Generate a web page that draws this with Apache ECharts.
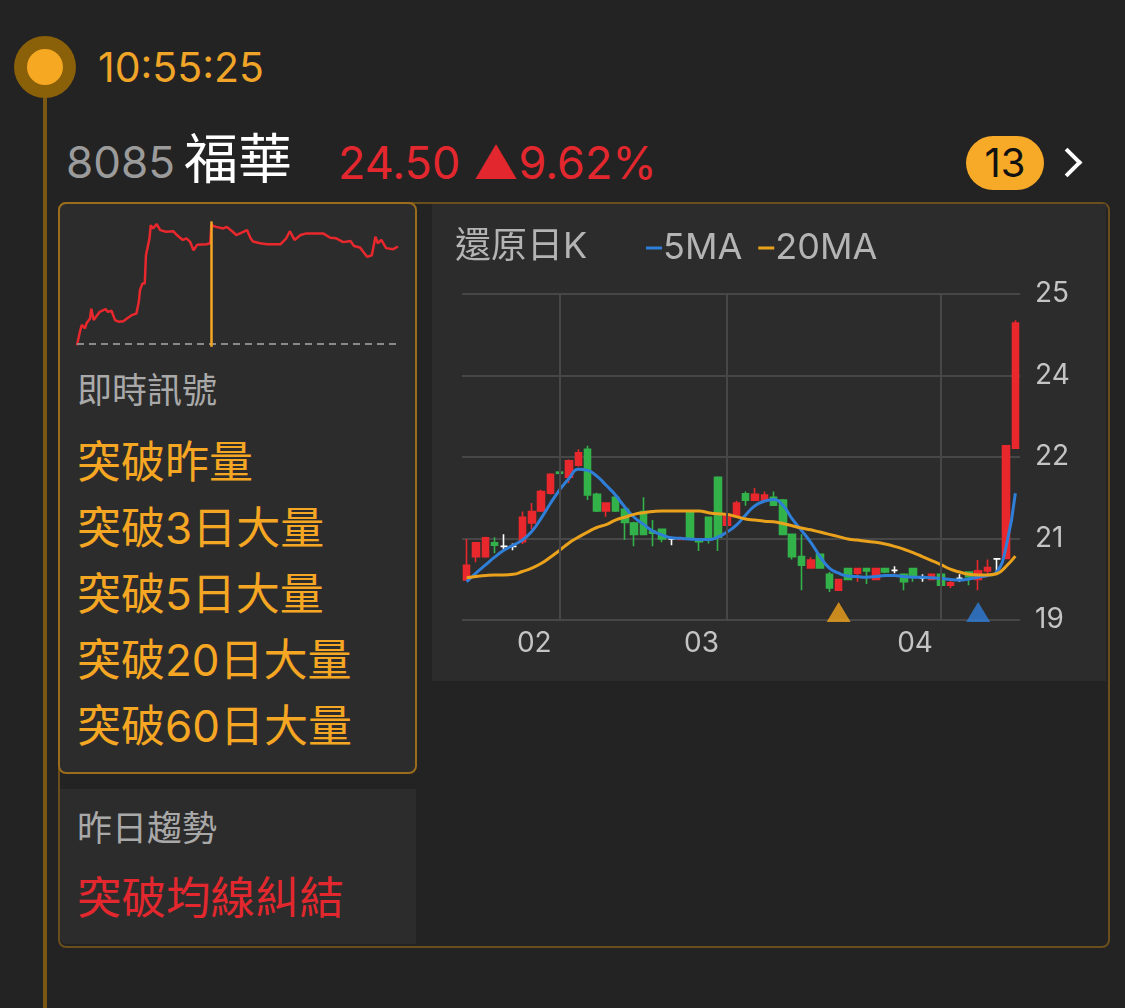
<!DOCTYPE html>
<html><head><meta charset="utf-8">
<script src="https://cdn.jsdelivr.net/npm/echarts@6/dist/echarts.min.js"></script>
<style>
html,body{margin:0;padding:0;}
body{background:#232323;width:1125px;height:1008px;overflow:hidden;position:relative;font-family:Inter,"Noto Sans CJK TC",sans-serif;}
.a{position:absolute;white-space:nowrap;line-height:1;}
</style>
</head><body>
<!-- timeline -->
<div class="a" style="left:43px;top:90px;width:4px;height:918px;background:#7a5712"></div>
<div class="a" style="left:14px;top:36px;width:62px;height:62px;border-radius:50%;background:#8a6008"></div>
<div class="a" style="left:27px;top:49px;width:36px;height:36px;border-radius:50%;background:#f7a823"></div>
<div class="a" style="left:98px;top:47px;font-size:41px;color:#f0a528;">10:55:25</div>
<!-- header -->
<div class="a" style="left:66px;top:140px;font-size:44px;color:#9b9b9b;">8085</div>
<div class="a" style="left:184px;top:133px;font-size:54px;color:#ffffff;">福華</div>
<div class="a" style="left:338px;top:140px;font-size:45px;color:#e2282e;">24.50 ▲9.62%</div>
<div class="a" style="left:966px;top:136px;width:78px;height:54px;border-radius:27px;background:#f7a928;color:#111;font-size:40px;text-align:center;line-height:54px;">13</div>
<div class="a" style="left:1057px;top:152px;width:17px;height:17px;border-top:4px solid #fff;border-right:4px solid #fff;transform:rotate(45deg);"></div>
<!-- card -->
<div class="a" style="left:58px;top:202px;width:1048px;height:742px;border:2px solid #6a4f1d;border-radius:8px;background:#232323;"></div>
<div class="a" style="left:432px;top:204px;width:674px;height:477px;background:#2c2c2c;"></div>
<div class="a" style="left:60px;top:789px;width:356px;height:155px;background:#2c2c2c;border-bottom-left-radius:6px;"></div>
<div class="a" style="left:58px;top:202px;width:355px;height:568px;border:2px solid #9a6c1c;border-radius:8px;background:#2c2c2c;"></div>
<!-- left panel texts -->
<div class="a" style="left:77px;top:373px;font-size:35px;color:#a9a9a9;">即時訊號</div>
<div class="a" style="left:77px;top:440px;font-size:44px;color:#f5a623;">突破昨量</div>
<div class="a" style="left:77px;top:506px;font-size:44px;color:#f5a623;">突破3日大量</div>
<div class="a" style="left:77px;top:572px;font-size:44px;color:#f5a623;">突破5日大量</div>
<div class="a" style="left:77px;top:638px;font-size:44px;color:#f5a623;">突破20日大量</div>
<div class="a" style="left:77px;top:704px;font-size:44px;color:#f5a623;">突破60日大量</div>
<div class="a" style="left:77px;top:811px;font-size:35px;color:#a9a9a9;">昨日趨勢</div>
<div class="a" style="left:77px;top:876px;font-size:44.5px;color:#e2282e;">突破均線糾結</div>
<!-- charts -->
<div id="mini" class="a" style="left:60px;top:204px;width:354px;height:160px;"></div>
<div id="k" class="a" style="left:432px;top:204px;width:674px;height:477px;"></div>
<script>
// ---------- data ----------
const dates = ['2023-01-06','2023-01-09','2023-01-10','2023-01-11','2023-01-12','2023-01-13','2023-01-16','2023-01-17','2023-01-30','2023-01-31',
'2023-02-01','2023-02-02','2023-02-03','2023-02-06','2023-02-07','2023-02-08','2023-02-09','2023-02-10','2023-02-13','2023-02-14','2023-02-15','2023-02-16','2023-02-17','2023-02-20','2023-02-21','2023-02-22','2023-02-23','2023-02-24',
'2023-03-01','2023-03-02','2023-03-03','2023-03-06','2023-03-07','2023-03-08','2023-03-09','2023-03-10','2023-03-13','2023-03-14','2023-03-15','2023-03-16','2023-03-17','2023-03-20','2023-03-21','2023-03-22','2023-03-23','2023-03-24','2023-03-27','2023-03-28','2023-03-29','2023-03-30','2023-03-31',
'2023-04-06','2023-04-07','2023-04-10','2023-04-11','2023-04-12','2023-04-13','2023-04-14','2023-04-17','2023-04-18'];
const opens = [20.00,20.41,20.41,20.65,20.59,20.59,20.67,21.00,21.21,21.52, 21.89,21.80,22.01,22.29,21.50,21.21,21.45,21.24,21.00,21.20, 20.86,20.89,20.72,20.71,21.18,20.71,21.10,21.80,20.96,21.11, 21.51,21.40,21.40,21.45,21.40,20.80,20.41,20.21,20.45,20.10, 19.82,20.20,20.12,20.20,20.01,20.20,20.17,20.10,20.20,20.03, 20.01,20.10,19.91,20.03,20.14,20.01,20.16,20.37,20.38,22.31];
const closes = [20.26,20.65,20.74,20.61,20.59,20.59,21.10,21.20,21.55,21.85, 21.87,22.09,22.23,21.49,21.21,21.35,21.21,21.01,20.80,20.80, 20.82,20.72,20.72,20.74,20.72,20.67,20.70,20.75,21.15,21.35, 21.40,21.50,21.49,21.31,20.80,20.41,20.26,20.35,20.21,19.86, 20.01,20.01,20.20,20.16,20.20,20.14,20.17,19.97,20.07,20.03, 20.10,19.91,19.95,20.03,20.06,20.16,20.22,20.37,22.35,24.50];
const highs = [20.72,20.67,20.76,20.75,20.80,20.64,21.20,21.35,21.58,21.87, 21.89,22.11,22.29,22.35,21.53,21.36,21.47,21.26,21.02,21.45, 21.05,20.90,20.72,20.74,21.19,20.72,21.11,21.82,21.17,21.39, 21.55,21.61,21.55,21.55,21.42,20.81,20.80,20.40,20.46,20.14, 20.02,20.21,20.21,20.21,20.21,20.21,20.24,20.12,20.21,20.10, 20.11,20.11,19.99,20.10,20.15,20.35,20.36,20.37,22.35,24.55];
const lows = [19.99,20.31,20.39,20.47,20.52,20.52,20.63,20.89,21.19,21.50, 21.87,21.70,21.99,21.40,21.19,21.11,21.19,20.70,20.59,20.79, 20.59,20.66,20.61,20.71,20.71,20.51,20.64,20.51,20.94,21.09, 21.30,21.39,21.39,21.30,20.79,20.36,19.82,20.20,20.20,19.79, 19.81,20.00,19.97,19.93,20.00,20.12,20.12,19.82,19.97,19.97, 20.00,19.90,19.86,19.97,19.91,19.82,20.07,20.12,20.37,22.30];
const ma5 = [19.97,20.12,20.26,20.40,20.52,20.61,20.70,20.85,21.08,21.34, 21.58,21.78,21.94,21.92,21.82,21.66,21.49,21.28,21.10,20.98, 20.86,20.79,20.74,20.73,20.72,20.71,20.71,20.75,20.84,20.96, 21.14,21.30,21.38,21.41,21.31,21.07,20.87,20.66,20.41,20.21, 20.12,20.07,20.06,20.05,20.06,20.08,20.08,20.06,20.05,20.05, 20.04,20.03,20.01,20.00,20.02,20.05,20.08,20.14,20.58,21.52];
const ma20 = [20.04,20.06,20.08,20.09,20.09,20.10,20.15,20.21,20.29,20.40, 20.52,20.65,20.75,20.84,20.92,20.97,21.05,21.10,21.15,21.18, 21.20,21.21,21.21,21.21,21.21,21.21,21.18,21.16,21.15,21.11, 21.07,21.05,21.03,21.02,20.99,20.95,20.91,20.88,20.84,20.80, 20.76,20.72,20.70,20.68,20.66,20.63,20.59,20.54,20.48,20.41, 20.34,20.27,20.19,20.14,20.10,20.09,20.09,20.11,20.24,20.42];
const yTickLabels = ['19','21','22','24','25'];
const orangeSignalIdx = [40];
const blueSignalIdx = [55];

const intradayMinutes = [0,2.5,4,6.7,8,11,12,14,17,19,24,26,29,32,35,39,42,46,50,52,53,55,57,58,59,61,62,64,67,70,75,81,84,89,92,95,98,101,109,112,113,117,123,126,131,134,143,146,148,154,160,171,176,179,183,188,193,207,213,218,224,230,233,238,244,248,251,253,256,260,266,270];
const intradayPrices = [22.33,22.58,22.70,22.64,22.73,22.82,23.00,22.79,22.88,22.94,22.99,22.94,22.96,22.79,22.76,22.77,22.82,22.88,22.91,23.13,23.34,23.46,23.46,23.98,23.95,24.29,24.53,24.47,24.55,24.44,24.41,24.42,24.35,24.26,24.29,24.23,24.07,24.17,24.18,24.20,24.53,24.50,24.47,24.50,24.41,24.35,24.44,24.29,24.23,24.20,24.18,24.18,24.29,24.42,24.26,24.35,24.38,24.38,24.30,24.29,24.22,24.24,24.15,24.12,23.95,23.98,24.32,24.20,24.26,24.11,24.09,24.14];
const prevClose = 22.35;
const signalMinute = 113;

// ---------- styles ----------
const FONT = 'Inter, "Noto Sans CJK TC", sans-serif';
const RED = '#e8282d', GREEN = '#33b24a', BLUE = '#2f7ed8', ORANGE = '#eaa21c';
const yMin = 19.30, yMax = 25.01;

const monthStarts = dates.map((d,i)=> (i>0 && d.slice(5,7)!==dates[i-1].slice(5,7)) ? i : -1).filter(i=>i>=0);
const candleData = dates.map((d,i)=>[opens[i],closes[i],lows[i],highs[i]]);
const sigY = yMin + 0.14;

const k = echarts.init(document.getElementById('k'));
k.setOption({
  animation:false,
  title:{text:'還原日K', left:18, top:20, textStyle:{color:'#b4b4b4', fontSize:36, fontWeight:'normal', fontFamily:FONT}},
  legend:{data:['5MA','20MA'], left:209, top:21, icon:'rect', itemWidth:16, itemHeight:3, itemGap:16,
    textStyle:{color:'#b4b4b4', fontSize:36, fontFamily:FONT, padding:[0,0,0,-4]}},
  grid:{left:30, top:90, width:558, height:326},
  xAxis:{type:'category', data:dates, boundaryGap:true,
    axisLine:{show:false}, axisTick:{show:false}, splitLine:{show:false},
    axisLabel:{interval:(i)=>monthStarts.includes(i), formatter:v=>v.slice(5,7), color:'#c4c4c4', fontSize:28, fontFamily:FONT, margin:10, align:'right', padding:[0,8,0,0]}},
  yAxis:[
    {type:'value', min:yMin, max:yMax, show:false},
    {type:'value', min:0, max:4, interval:1, position:'right',
      axisLine:{show:false}, axisTick:{show:false},
      splitLine:{lineStyle:{color:'#474747', width:2}},
      axisLabel:{formatter:v=>yTickLabels[Math.round(v)], color:'#c4c4c4', fontSize:28, fontFamily:FONT, margin:15}}
  ],
  series:[
    {type:'candlestick', name:'K', data:candleData, barWidth:7, yAxisIndex:0,
      itemStyle:{color:RED, color0:GREEN, borderColor:RED, borderColor0:GREEN, borderColorDoji:'#ffffff', borderWidth:1.6},
      markLine:{silent:true, symbol:['none','none'], label:{show:false}, animation:false,
        lineStyle:{color:'#474747', width:2, type:'solid'},
        data: monthStarts.map(i=>({xAxis:dates[i]}))}},
    {type:'line', name:'5MA', data:ma5, smooth:true, showSymbol:false, yAxisIndex:0, lineStyle:{color:BLUE, width:3}, itemStyle:{color:BLUE}},
    {type:'line', name:'20MA', data:ma20, smooth:true, showSymbol:false, yAxisIndex:0, lineStyle:{color:ORANGE, width:3}, itemStyle:{color:ORANGE}},
    {type:'scatter', name:'signalA', data:orangeSignalIdx.map(i=>[dates[i], sigY]), yAxisIndex:0, symbol:'triangle', symbolSize:[24,20], itemStyle:{color:'#f2a41c'}, silent:true},
    {type:'scatter', name:'signalB', data:blueSignalIdx.map(i=>[dates[i], sigY]), yAxisIndex:0, symbol:'triangle', symbolSize:[24,20], itemStyle:{color:'#2f7ed8'}, silent:true}
  ]
});

const mini = echarts.init(document.getElementById('mini'));
mini.setOption({
  animation:false,
  grid:{left:17, top:17.4, width:321, height:125.4},
  xAxis:{type:'value', min:0, max:270, show:false},
  yAxis:{type:'value', min:22.30, max:24.60, show:false},
  series:[{type:'line', data:intradayMinutes.map((m,i)=>[m,intradayPrices[i]]), showSymbol:false,
    lineStyle:{color:RED, width:2.5},
    markLine:{silent:true, symbol:['none','none'], label:{show:false}, animation:false,
      data:[
        {yAxis:prevClose, lineStyle:{color:'#8a8a8a', type:[7,5], width:2}},
        {xAxis:signalMinute, lineStyle:{color:'#f5a623', width:2.5, type:'solid'}}
      ]}
  }]
});
</script>
</body></html>
